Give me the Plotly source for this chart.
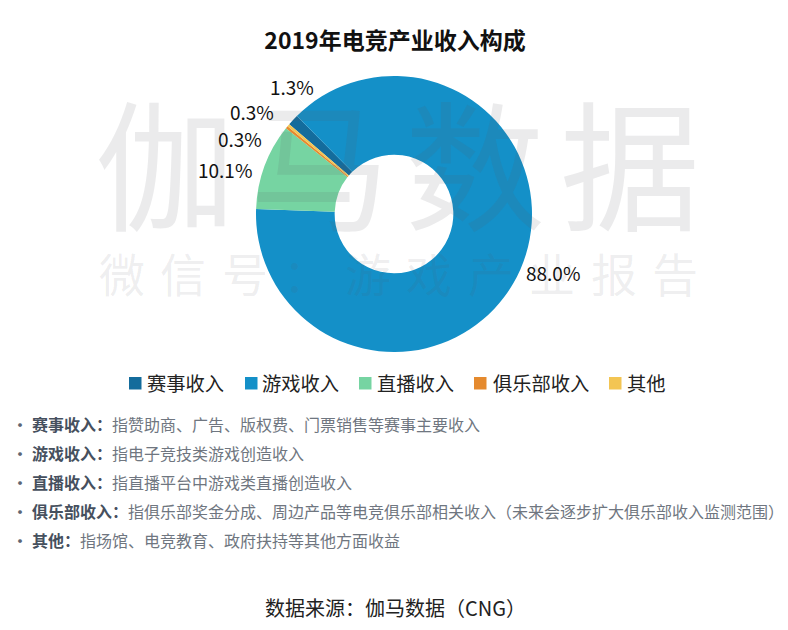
import plotly.graph_objects as go

CJK = "Noto Sans CJK SC"

# Pie data
categories = ["赛事收入", "游戏收入", "直播收入", "俱乐部收入", "其他"]
shares = [1.3, 88.0, 10.1, 0.3, 0.3]
colors = ["#146c9c", "#1490c8", "#76d4a2", "#e58a2e", "#f3c553"]

# Slice label spots (same order as categories)
label_x = [292, 553, 225, 240, 252]
label_y = [87, 272, 170, 138, 111]

# Legend spots
legend_box_x = [129, 245, 359, 474, 609]
legend_text_x = [146, 261, 376, 492, 626]

# Notes under the legend
note_heads = ["赛事收入：", "游戏收入：", "直播收入：", "俱乐部收入：", "其他："]
note_bodies = [
    "指赞助商、广告、版权费、门票销售等赛事主要收入",
    "指电子竞技类游戏创造收入",
    "指直播平台中游戏类直播创造收入",
    "指俱乐部奖金分成、周边产品等电竞俱乐部相关收入（未来会逐步扩大俱乐部收入监测范围）",
    "指场馆、电竞教育、政府扶持等其他方面收益",
]
note_rows = [424, 453, 482, 511, 540]

# Watermark
mark_big = ["伽", "马", "数", "据"]
mark_big_x = [165, 320, 475, 630]
mark_small = ["微", "信", "号", "：", "游", "戏", "产", "业", "报", "告"]
mark_small_x = [122, 183, 245, 306, 368, 429, 491, 552, 614, 675]

W, H = 788, 630


def px(x):
    return x / W


def py(y):
    return 1 - y / H


fig = go.Figure()

fig.add_trace(go.Pie(
    labels=categories,
    values=shares,
    hole=0.43,
    sort=False,
    direction="clockwise",
    rotation=-49.4,
    marker=dict(colors=colors, line=dict(width=0)),
    textinfo="none",
    showlegend=False,
    domain=dict(x=[px(256), px(532)], y=[py(352), py(76)]),
))

annotations = []
shapes = []


def add_text(x, y, text, size, color, anchor="left"):
    annotations.append(dict(
        x=px(x), y=py(y), xref="paper", yref="paper", text=text, showarrow=False,
        xanchor=anchor, yanchor="middle", font=dict(family=CJK, size=size, color=color),
    ))


for ch, x in zip(mark_big, mark_big_x):
    add_text(x, 159, ch, 140, "rgba(90,90,100,0.12)", "center")
for ch, x in zip(mark_small, mark_small_x):
    add_text(x, 272, ch, 46, "rgba(90,90,100,0.10)", "center")

for value, x, y in zip(shares, label_x, label_y):
    add_text(x, y, f"{value:.1f}%", 19, "#111111", "center")

for name, color, box_x, text_x in zip(categories, colors, legend_box_x, legend_text_x):
    shapes.append(dict(
        type="rect", xref="paper", yref="paper", line=dict(width=0), fillcolor=color,
        x0=px(box_x), x1=px(box_x + 12.5), y0=py(389.5), y1=py(377),
    ))
    add_text(text_x - 1, 383, name, 19.3, "#222222")

for head, body, y in zip(note_heads, note_bodies, note_rows):
    add_text(9, y, "•", 18, "#5d6674")
    add_text(30, y, f"<b>{head}</b><span style='color:#6f7680'>{body}</span>", 16, "#46505e")

add_text(396, 607, "数据来源：伽马数据（CNG）", 20, "#222222", "center")

fig.update_layout(
    width=W,
    height=H,
    margin=dict(l=0, r=0, t=0, b=0),
    paper_bgcolor="white",
    title=dict(
        text="<b>2019年电竞产业收入构成</b>",
        x=395 / W, xanchor="center", y=py(41), yanchor="middle",
        font=dict(family=CJK, size=23, color="#111111"),
    ),
    annotations=annotations,
    shapes=shapes,
)

# the page's default body margin would push the plot 8px down and right
fig.write_html(
    "out.html",
    config={"displayModeBar": False},
    post_script="document.body.style.margin = '0';",
)
